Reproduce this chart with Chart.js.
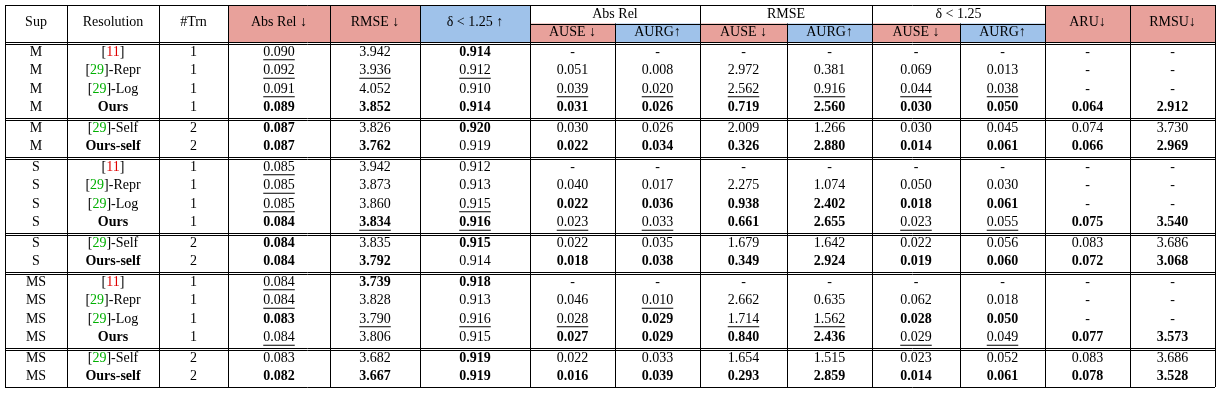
<!DOCTYPE html><html><head><meta charset="utf-8">
<script src="https://cdn.jsdelivr.net/npm/chart.js@4"></script>
<style>html,body{margin:0;padding:0;background:#fff}#c{display:block}</style></head><body>
<div style="width:1222px;height:400px"><canvas id="c"></canvas></div>
<script>
// ---- data (markup: "b:" bold, "u:" underline, "bu:" bold+underline) ----
const supCol = ["M","M","M","M","M","M","S","S","S","S","S","S","MS","MS","MS","MS","MS","MS"];
const resCol = ["[11]","[29]-Repr","[29]-Log","b:Ours","[29]-Self","b:Ours-self","[11]","[29]-Repr","[29]-Log","b:Ours","[29]-Self","b:Ours-self","[11]","[29]-Repr","[29]-Log","b:Ours","[29]-Self","b:Ours-self"];
const trnCol = ["1","1","1","1","2","2","1","1","1","1","2","2","1","1","1","1","2","2"];
const absRel = ["u:0.090","u:0.092","u:0.091","b:0.089","b:0.087","b:0.087","u:0.085","u:0.085","u:0.085","b:0.084","b:0.084","b:0.084","u:0.084","u:0.084","b:0.083","u:0.084","0.083","b:0.082"];
const rmse = ["3.942","u:3.936","4.052","b:3.852","3.826","b:3.762","3.942","3.873","3.860","bu:3.834","3.835","b:3.792","b:3.739","3.828","u:3.790","3.806","3.682","b:3.667"];
const delta = ["b:0.914","u:0.912","0.910","b:0.914","b:0.920","0.919","0.912","0.913","u:0.915","bu:0.916","b:0.915","0.914","b:0.918","0.913","u:0.916","0.915","b:0.919","b:0.919"];
const auseAbs = ["-","0.051","u:0.039","b:0.031","0.030","b:0.022","-","0.040","b:0.022","u:0.023","0.022","b:0.018","-","0.046","u:0.028","b:0.027","0.022","b:0.016"];
const aurgAbs = ["-","0.008","u:0.020","b:0.026","0.026","b:0.034","-","0.017","b:0.036","u:0.033","0.035","b:0.038","-","u:0.010","b:0.029","b:0.029","0.033","b:0.039"];
const auseRmse = ["-","2.972","u:2.562","b:0.719","2.009","b:0.326","-","2.275","b:0.938","b:0.661","1.679","b:0.349","-","2.662","u:1.714","b:0.840","1.654","b:0.293"];
const aurgRmse = ["-","0.381","u:0.916","b:2.560","1.266","b:2.880","-","1.074","b:2.402","b:2.655","1.642","b:2.924","-","0.635","u:1.562","b:2.436","1.515","b:2.859"];
const auseDelta = ["-","0.069","u:0.044","b:0.030","0.030","b:0.014","-","0.050","b:0.018","u:0.023","0.022","b:0.019","-","0.062","b:0.028","u:0.029","0.023","b:0.014"];
const aurgDelta = ["-","0.013","u:0.038","b:0.050","0.045","b:0.061","-","0.030","b:0.061","u:0.055","0.056","b:0.060","-","0.018","b:0.050","u:0.049","0.052","b:0.061"];
const aru = ["-","-","-","b:0.064","0.074","b:0.066","-","-","-","b:0.075","0.083","b:0.072","-","-","-","b:0.077","0.083","b:0.078"];
const rmsu = ["-","-","-","b:2.912","3.730","b:2.969","-","-","-","b:3.540","3.686","b:3.068","-","-","-","b:3.573","3.686","b:3.528"];
const groupSizes = [4,2,4,2,4,2];
const headers = ["Sup","Resolution","#Trn","Abs Rel ↓","RMSE ↓","δ < 1.25 ↑","AUSE ↓","AURG↑","AUSE ↓","AURG↑","AUSE ↓","AURG↑","ARU↓","RMSU↓"];
const groupHeaders = ["Abs Rel","RMSE","δ < 1.25"];
const columns = [supCol,resCol,trnCol,absRel,rmse,delta,auseAbs,aurgAbs,auseRmse,aurgRmse,auseDelta,aurgDelta,aru,rmsu];

// ---- layout / style ----
const edges = [5,67,159,228,330,420,530,615,700,787,872,960,1045,1130,1215];
const headColor = [null,null,null,"r","r","b","r","b","r","b","r","b","r","r"];
const RED = "#e8a19b", BLUE = "#9fc2ea";
const FONT = '"Liberation Serif", "DejaVu Serif", serif';

const tablePlugin = {
  id: 'table',
  afterDraw(chart) {
    const ctx = chart.ctx, xs = chart.scales.x, ys = chart.scales.y;
    const X = v => xs.getPixelForValue(v), Y = v => ys.getPixelForValue(v);
    const top = 5, mid = 23.5, hb = 42, hb2 = 44, rh = 18.5;
    const rowTop = []; let y = hb2, seps = [];
    groupSizes.forEach((g, gi) => {
      for (let i = 0; i < g; i++) { rowTop.push(y); y += rh; }
      if (gi < groupSizes.length - 1) { seps.push(y); y += 2; }
    });
    const bottom = y;
    headColor.forEach((c, i) => {
      if (!c) return;
      const y0 = (i >= 6 && i <= 11) ? mid : top;
      ctx.fillStyle = c === "r" ? RED : BLUE;
      ctx.fillRect(X(edges[i]), Y(y0), X(edges[i+1]) - X(edges[i]), Y(hb) - Y(y0));
    });
    ctx.strokeStyle = "#000"; ctx.lineWidth = 1;
    const hl = (a, b, yy) => { ctx.beginPath(); ctx.moveTo(X(a), Math.round(Y(yy))+0.5); ctx.lineTo(X(b), Math.round(Y(yy))+0.5); ctx.stroke(); };
    const vl = (xx, a, b) => { ctx.beginPath(); ctx.moveTo(Math.round(X(xx))+0.5, Y(a)); ctx.lineTo(Math.round(X(xx))+0.5, Y(b)); ctx.stroke(); };
    hl(edges[0], edges[14], top); hl(edges[0], edges[14], hb); hl(edges[0], edges[14], hb2);
    hl(edges[6], edges[12], mid);
    seps.forEach(s => { hl(edges[0], edges[14], s); hl(edges[0], edges[14], s + 2); });
    hl(edges[0], edges[14], bottom);
    edges.forEach((e, i) => {
      if (i === 7 || i === 9 || i === 11) vl(e, mid, bottom); else vl(e, top, bottom);
    });
    ctx.textBaseline = "middle"; ctx.textAlign = "left";
    const draw = (raw, cx, cy, baseColor) => {
      let bold = false, ul = false, s = raw;
      const m = /^(bu|b|u):/.exec(raw);
      if (m) { bold = m[1].includes("b"); ul = m[1].includes("u"); s = raw.slice(m[0].length); }
      ctx.font = (bold ? "bold " : "") + "14px " + FONT;
      const parts = [];
      const cm = /^\[(\d+)\](.*)$/.exec(s);
      if (cm) { parts.push(["[", "#000"], [cm[1], cm[1] === "11" ? "#e00000" : "#00b000"], ["]" + cm[2], "#000"]); }
      else parts.push([s, baseColor || "#000"]);
      const w = parts.reduce((a, p) => a + ctx.measureText(p[0]).width, 0);
      let x = cx - w / 2;
      parts.forEach(p => { ctx.fillStyle = p[1]; ctx.fillText(p[0], x, cy); x += ctx.measureText(p[0]).width; });
      if (ul) { ctx.fillStyle = "#000"; ctx.fillRect(cx - w/2, cy + 7, w, 1); }
    };
    headers.forEach((h, i) => {
      const cx = X((edges[i] + edges[i+1]) / 2);
      const cy = (i >= 6 && i <= 11) ? Y((mid + hb) / 2) : Y((top + hb) / 2 - 1);
      draw(h, cx, cy);
    });
    groupHeaders.forEach((h, g) => {
      const cx = X((edges[6 + 2*g] + edges[8 + 2*g]) / 2);
      draw(h, cx, Y((top + mid) / 2));
    });
    columns.forEach((col, ci) => {
      const cx = X((edges[ci] + edges[ci+1]) / 2);
      col.forEach((v, ri) => draw(v, cx, Y(rowTop[ri] + rh / 2 - 1)));
    });
  }
};

new Chart(document.getElementById('c'), {
  type: 'scatter',
  data: { datasets: [{ data: [], pointRadius: 0 }] },
  options: {
    responsive: true, maintainAspectRatio: false, animation: false,
    layout: { padding: 0 },
    plugins: { legend: { display: false }, tooltip: { enabled: false } },
    scales: {
      x: { type: 'linear', min: 0, max: 1222, display: false },
      y: { type: 'linear', min: 0, max: 400, reverse: true, display: false }
    }
  },
  plugins: [tablePlugin]
});
</script></body></html>
